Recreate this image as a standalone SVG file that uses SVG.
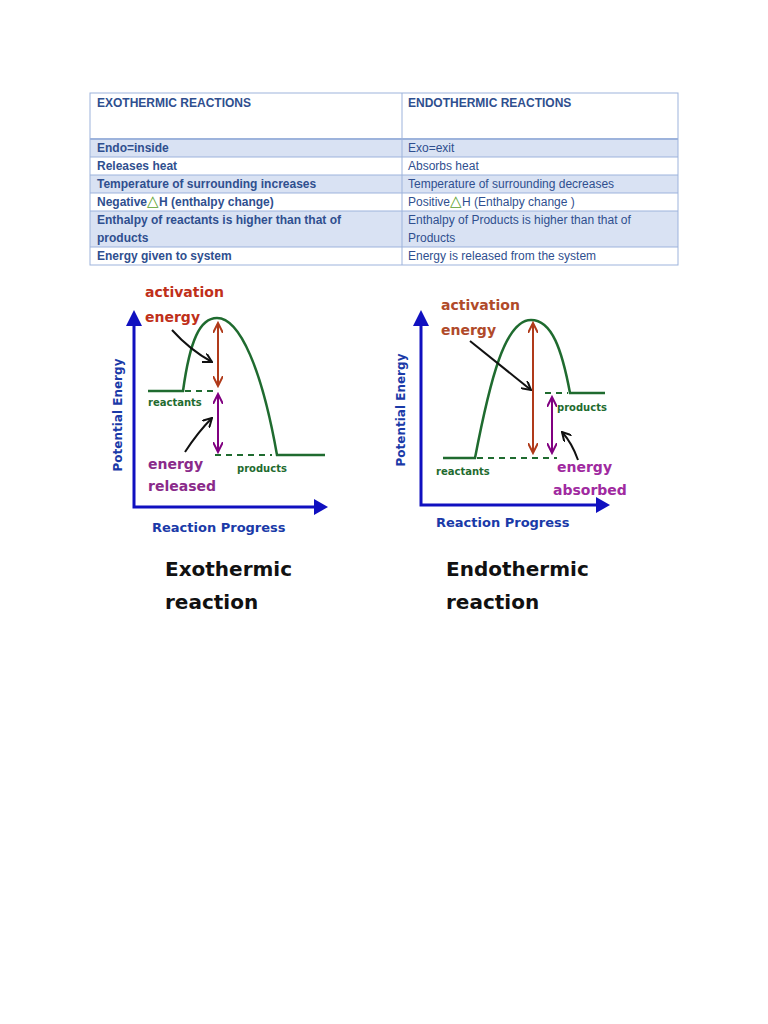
<svg xmlns="http://www.w3.org/2000/svg" width="768" height="1024" viewBox="0 0 768 1024">
<defs>
<style>
.t{font-family:"Liberation Sans",Arial,sans-serif;font-size:12px;fill:#2f4f8f}
.b{font-weight:bold}
.cell{stroke:#9db3dc;stroke-width:1}
.sh{fill:#d9e2f3}
.ax{stroke:#1010c0;stroke-width:3;fill:none}
.gr{stroke:#1f6b2f;stroke-width:2.5;fill:none}
.dash{stroke:#1f6b2f;stroke-width:2;stroke-dasharray:6,5}
.hd{font-family:"DejaVu Sans",sans-serif;font-weight:bold}
.red{stroke:#b03a1a;stroke-width:2;fill:none}
.pur{stroke:#800080;stroke-width:2;fill:none}
.blk{stroke:#111;stroke-width:2;fill:none}
</style>
<marker id="ah" markerWidth="10" markerHeight="10" refX="9" refY="5" orient="auto" markerUnits="userSpaceOnUse"><path d="M0,0L9,5L0,10" fill="none" stroke="#111" stroke-width="2"/></marker>
<marker id="rh" markerWidth="12" markerHeight="10" refX="10" refY="5" orient="auto-start-reverse" markerUnits="userSpaceOnUse"><path d="M0,0L10,5L0,10" fill="none" stroke="#b03a1a" stroke-width="2"/></marker>
<marker id="ph" markerWidth="12" markerHeight="10" refX="10" refY="5" orient="auto-start-reverse" markerUnits="userSpaceOnUse"><path d="M0,0L10,5L0,10" fill="none" stroke="#800080" stroke-width="2"/></marker>
</defs>
<rect width="768" height="1024" fill="#fff"/>
<g id="table">
<rect class="sh" x="90" y="139" width="588" height="18"/>
<rect class="sh" x="90" y="175" width="588" height="18"/>
<rect class="sh" x="90" y="211" width="588" height="36"/>
<g class="cell">
<rect x="90" y="93" width="588" height="172" fill="none"/>
<line x1="402" y1="93" x2="402" y2="265"/>
<line x1="90" y1="139" x2="678" y2="139" stroke-width="2"/>
<line x1="90" y1="157" x2="678" y2="157"/>
<line x1="90" y1="175" x2="678" y2="175"/>
<line x1="90" y1="193" x2="678" y2="193"/>
<line x1="90" y1="211" x2="678" y2="211"/>
<line x1="90" y1="247" x2="678" y2="247"/>
</g>
<text class="t b" x="97" y="107">EXOTHERMIC REACTIONS</text>
<text class="t b" x="408" y="107">ENDOTHERMIC REACTIONS</text>
<text class="t b" x="97" y="152">Endo=inside</text>
<text class="t" x="408" y="152">Exo=exit</text>
<text class="t b" x="97" y="170">Releases heat</text>
<text class="t" x="408" y="170">Absorbs heat</text>
<text class="t b" x="97" y="188">Temperature of surrounding increases</text>
<text class="t" x="408" y="188">Temperature of surrounding decreases</text>
<text class="t b" x="97" y="206">Negative<tspan fill="#5aa02c" font-weight="normal" font-size="15">△</tspan>H (enthalpy change)</text>
<text class="t" x="408" y="206">Positive<tspan fill="#5aa02c" font-size="15">△</tspan>H (Enthalpy change )</text>
<text class="t b" x="97" y="224">Enthalpy of reactants is higher than that of</text>
<text class="t b" x="97" y="242">products</text>
<text class="t" x="408" y="224">Enthalpy of Products is higher than that of</text>
<text class="t" x="408" y="242">Products</text>
<text class="t b" x="97" y="260">Energy given to system</text>
<text class="t" x="408" y="260">Energy is released from the system</text>
</g>
<g id="exo">
<path class="ax" d="M134,322V507H318"/>
<path d="M134,310L126,326H142Z M328,507L314,499V515Z" fill="#1010c0"/>
<path class="gr" d="M148,391H183 C190,340 200,318 217,318 C240,318 262,370 277,455 H325"/>
<line class="dash" x1="185" y1="391" x2="213" y2="391"/>
<line class="dash" x1="215" y1="455" x2="272" y2="455"/>
<line class="red" x1="218" y1="323" x2="218" y2="386" marker-start="url(#rh)" marker-end="url(#rh)"/>
<line class="pur" x1="218" y1="394" x2="218" y2="452" marker-start="url(#ph)" marker-end="url(#ph)"/>
<path class="blk" d="M172,330 Q190,350 212,362" marker-end="url(#ah)"/>
<path class="blk" d="M185,452 Q198,432 212,418" marker-end="url(#ah)"/>
<text class="hd" x="145" y="297" font-size="14" fill="#c0301a">activation</text>
<text class="hd" x="145" y="322" font-size="14" fill="#c0301a">energy</text>
<text class="hd" x="148" y="406" font-size="10" fill="#1f6b2f">reactants</text>
<text class="hd" x="237" y="472" font-size="10" fill="#1f6b2f">products</text>
<text class="hd" x="148" y="469" font-size="14" fill="#8a2a8a">energy</text>
<text class="hd" x="148" y="491" font-size="14" fill="#8a2a8a">released</text>
<text class="hd" transform="translate(122,415) rotate(-90)" text-anchor="middle" font-size="12" fill="#1a3aa8">Potential Energy</text>
<text class="hd" x="152" y="532" font-size="13" fill="#1a3aa8">Reaction Progress</text>
<text class="hd" x="165" y="576" font-size="20" fill="#111">Exothermic</text>
<text class="hd" x="165" y="609" font-size="20" fill="#111">reaction</text>
</g>
<g id="endo">
<path class="ax" d="M421,322V505H600"/>
<path d="M421,310L413,326H429Z M610,505L596,497V513Z" fill="#1010c0"/>
<path class="gr" d="M443,458H475 C490,380 505,320 531,320 C552,320 562,350 570,393 H605"/>
<line class="dash" x1="477" y1="458" x2="557" y2="458"/>
<line class="dash" x1="545" y1="393" x2="568" y2="393"/>
<line class="red" x1="533" y1="323" x2="533" y2="453" marker-start="url(#rh)" marker-end="url(#rh)"/>
<line class="pur" x1="552" y1="397" x2="552" y2="453" marker-start="url(#ph)" marker-end="url(#ph)"/>
<path class="blk" d="M470,341 Q500,365 531,390" marker-end="url(#ah)"/>
<path class="blk" d="M578,460 Q572,443 562,432" marker-end="url(#ah)"/>
<text class="hd" x="441" y="310" font-size="14" fill="#b04a2a">activation</text>
<text class="hd" x="441" y="335" font-size="14" fill="#b04a2a">energy</text>
<text class="hd" x="557" y="411" font-size="10" fill="#1f6b2f">products</text>
<text class="hd" x="436" y="475" font-size="10" fill="#1f6b2f">reactants</text>
<text class="hd" x="557" y="472" font-size="14" fill="#a02aa0">energy</text>
<text class="hd" x="553" y="495" font-size="14" fill="#a02aa0">absorbed</text>
<text class="hd" transform="translate(405,410) rotate(-90)" text-anchor="middle" font-size="12" fill="#1a3aa8">Potential Energy</text>
<text class="hd" x="436" y="527" font-size="13" fill="#1a3aa8">Reaction Progress</text>
<text class="hd" x="446" y="576" font-size="20" fill="#111">Endothermic</text>
<text class="hd" x="446" y="609" font-size="20" fill="#111">reaction</text>
</g>
</svg>
